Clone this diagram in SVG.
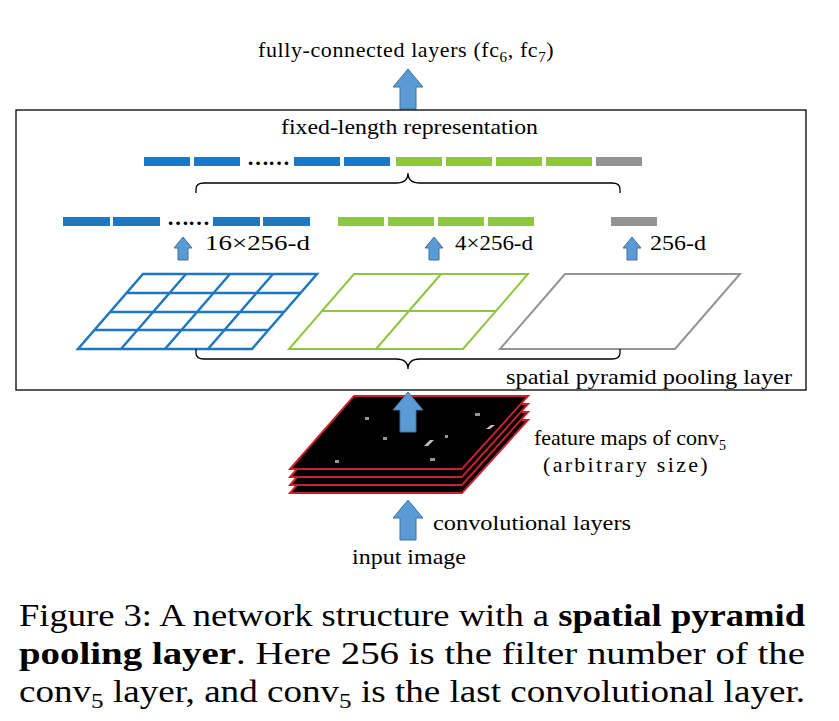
<svg xmlns="http://www.w3.org/2000/svg" width="839" height="721" viewBox="0 0 839 721">
<style>
text{font-family:"Liberation Serif","DejaVu Serif",serif;fill:#000}
.l{font-size:22px}.c{font-size:31px}
.b{fill:#1f77bf}.g{fill:#8dc63f}.y{fill:#939393}
.ar{fill:#5b9bd5;stroke:#41719c;stroke-width:1}
.br{fill:none;stroke:#000;stroke-width:1.3}
.sh{fill:#000;stroke:#c8202f;stroke-width:2}
</style>
<defs>
<path id="bigA" d="M-8,0 V-22 H-15 L0,-40 L15,-22 H8 V0 Z"/>
<path id="smA" d="M-5,0 V-12 H-9 L0,-23 L9,-12 H5 V0 Z"/>
</defs>
<rect x="0" y="0" width="839" height="721" fill="#fff"/>
<text class="l" x="258" y="57" font-size="22.5" letter-spacing="0.6">fully-connected layers (fc<tspan font-size="15" dy="5">6</tspan><tspan dy="-5">, fc</tspan><tspan font-size="15" dy="5">7</tspan><tspan dy="-5">)</tspan></text>
<use href="#bigA" class="ar" x="408" y="109"/>
<rect x="16" y="110" width="790" height="280" fill="none" stroke="#000" stroke-width="1.3"/>
<text class="l" x="281" y="134" textLength="257" lengthAdjust="spacingAndGlyphs">fixed-length representation</text>
<g id="top-row">
<rect class="b" x="144" y="157" width="46" height="9"/><rect class="b" x="194" y="157" width="46" height="9"/>
<text class="l" x="247" y="165" font-weight="bold" letter-spacing="-1">……</text>
<rect class="b" x="294" y="157" width="46" height="9"/><rect class="b" x="344" y="157" width="46" height="9"/>
<rect class="g" x="396" y="157" width="46" height="9"/><rect class="g" x="446" y="157" width="46" height="9"/>
<rect class="g" x="496" y="157" width="46" height="9"/><rect class="g" x="546" y="157" width="46" height="9"/>
<rect class="y" x="596" y="157" width="46" height="9"/>
</g>
<path class="br" d="M196,193 V189 Q196,183 204,183 H396 Q408,183 408,173 Q408,183 420,183 H612 Q620,183 620,189 V193"/>
<g id="mid-row">
<rect class="b" x="63" y="217" width="47" height="9"/><rect class="b" x="113" y="217" width="47" height="9"/>
<text class="l" x="167" y="225" font-weight="bold" letter-spacing="-1">……</text>
<rect class="b" x="213" y="217" width="47" height="9"/><rect class="b" x="263" y="217" width="47" height="9"/>
<rect class="g" x="338" y="217" width="46" height="9"/><rect class="g" x="388" y="217" width="46" height="9"/>
<rect class="g" x="438" y="217" width="46" height="9"/><rect class="g" x="488" y="217" width="46" height="9"/>
<rect class="y" x="611" y="217" width="46" height="9"/>
</g>
<use href="#smA" class="ar" x="183" y="260"/><use href="#smA" class="ar" x="434" y="260"/><use href="#smA" class="ar" x="632" y="260"/>
<text class="l" x="205" y="250" textLength="105" lengthAdjust="spacingAndGlyphs">16×256-d</text>
<text class="l" x="455" y="250" textLength="78" lengthAdjust="spacingAndGlyphs">4×256-d</text>
<text class="l" x="650" y="250" textLength="56" lengthAdjust="spacingAndGlyphs">256-d</text>
<g id="grid16" fill="none" stroke="#1f77bf" stroke-width="2.5">
<path d="M143,274 H317 L252,349 H78 Z"/>
<path d="M127,293 H301 M110,312 H284 M94,330 H268"/>
<path d="M186,274 L121,349 M230,274 L165,349 M273,274 L208,349"/>
</g>
<g id="grid4" fill="none" stroke="#8dc63f" stroke-width="2">
<path d="M354,274 H528 L463,349 H289 Z M321,311 H496 M441,274 L376,349"/>
</g>
<g id="grid1" fill="none" stroke="#939393" stroke-width="2">
<path d="M565,274 H740 L675,349 H500 Z"/>
</g>
<path class="br" d="M196,349 V353 Q196,359 204,359 H396 Q408,359 408,369 Q408,359 420,359 H612 Q620,359 620,353 V349"/>
<text class="l" x="506" y="384" textLength="286" lengthAdjust="spacingAndGlyphs">spatial pyramid pooling layer</text>
<g id="featmaps">
<path class="sh" d="M354,420 H528 L462,493 H290 Z"/>
<path class="sh" d="M354,412 H528 L462,485 H290 Z"/>
<path class="sh" d="M354,404 H528 L462,477 H290 Z"/>
<path class="sh" d="M354,396 H528 L462,469 H290 Z"/>
<g fill="#bbb" opacity="0.8">
<path d="M424,446 l6,-6 4,0 -6,6z" fill="#eee"/><path d="M486,429 l5,-4 4,0 -5,4z" fill="#eee"/>
<rect x="365" y="417" width="4" height="3"/><rect x="383" y="437" width="4" height="3"/><rect x="430" y="458" width="5" height="3"/>
<rect x="475" y="413" width="5" height="3"/><rect x="335" y="460" width="4" height="3"/><rect x="445" y="435" width="3" height="3"/>
</g>
</g>
<use href="#bigA" class="ar" x="408" y="432"/>
<text class="l" x="534" y="445" font-size="21">feature maps of conv<tspan font-size="14" dy="5">5</tspan></text>
<text class="l" x="543" y="472" font-size="23" letter-spacing="2.3">(arbitrary size)</text>
<use href="#bigA" class="ar" x="408" y="540"/>
<text class="l" x="433" y="530" textLength="198" lengthAdjust="spacingAndGlyphs">convolutional layers</text>
<text class="l" x="352" y="564" textLength="114" lengthAdjust="spacingAndGlyphs">input image</text>
<text class="c" x="19" y="626" textLength="786" lengthAdjust="spacingAndGlyphs">Figure 3: A network structure with a <tspan font-weight="bold">spatial pyramid</tspan></text>
<text class="c" x="19" y="664" textLength="786" lengthAdjust="spacingAndGlyphs"><tspan font-weight="bold">pooling layer</tspan>. Here 256 is the filter number of the</text>
<text class="c" x="19" y="702" textLength="786" lengthAdjust="spacingAndGlyphs">conv<tspan font-size="21" dy="6">5</tspan><tspan dy="-6"> layer, and conv</tspan><tspan font-size="21" dy="6">5</tspan><tspan dy="-6"> is the last convolutional layer.</tspan></text>
</svg>
